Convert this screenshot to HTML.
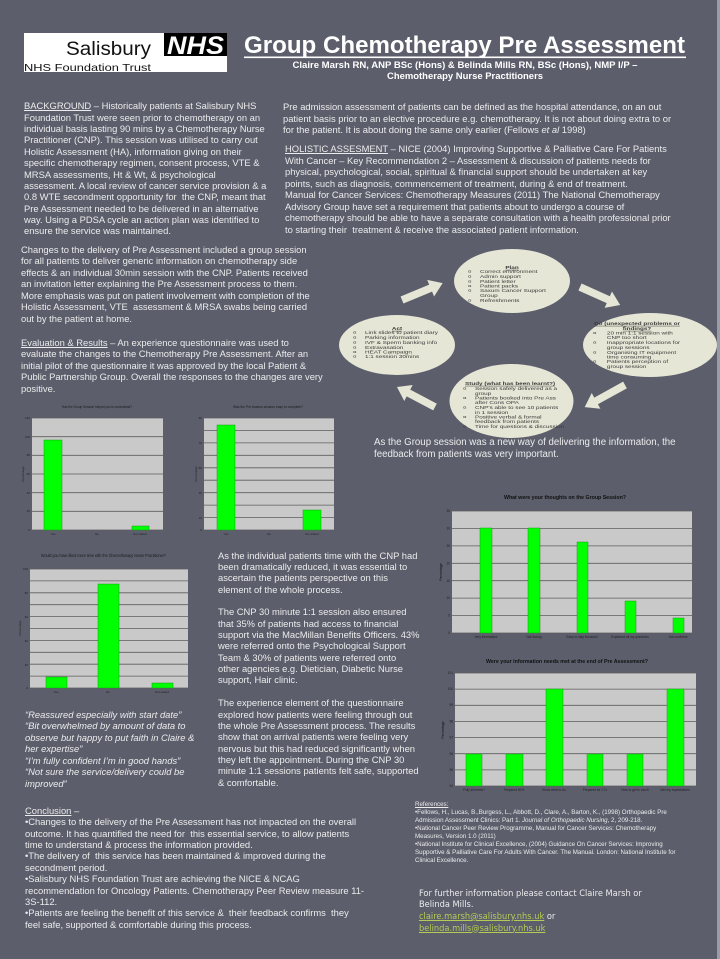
<!DOCTYPE html>
<html><head><meta charset="utf-8">
<style>
html,body{margin:0;padding:0;}
body{width:720px;height:959px;background:#5c5e6c;position:relative;overflow:hidden;font-family:"Liberation Sans",Arial,sans-serif;color:#ececec;}
.t{position:absolute;white-space:nowrap;font-size:9.4px;line-height:11.4px;}
svg{position:absolute;left:0;top:0;}
</style></head><body>
<svg width="720" height="959" viewBox="0 0 720 959" xmlns="http://www.w3.org/2000/svg" font-family="Liberation Sans, Arial, sans-serif">
<rect x="717" y="0" width="3" height="959" fill="#9a9ca8"/>
<!-- logo -->
<rect x="24" y="33" width="203" height="39" fill="#ffffff"/>
<rect x="164" y="33" width="63" height="23" fill="#000"/>
<text x="195.5" y="54" font-size="25" font-weight="bold" font-style="italic" fill="#fff" text-anchor="middle" textLength="57" lengthAdjust="spacingAndGlyphs">NHS</text>
<text x="66" y="55" font-size="19" fill="#111" textLength="85" lengthAdjust="spacingAndGlyphs">Salisbury</text>
<text x="24" y="71" font-size="10.5" fill="#111" textLength="127" lengthAdjust="spacingAndGlyphs">NHS Foundation Trust</text>
<!-- title -->
<text x="244" y="53" font-size="24" font-weight="bold" fill="#fff" textLength="441" lengthAdjust="spacingAndGlyphs">Group Chemotherapy Pre Assessment</text>
<rect x="244" y="56.5" width="442" height="1.6" fill="#fff"/>
<text x="465" y="68" font-size="9.2" font-weight="bold" fill="#fff" text-anchor="middle" textLength="345" lengthAdjust="spacingAndGlyphs">Claire Marsh RN, ANP BSc (Hons) &amp; Belinda Mills RN, BSc (Hons), NMP I/P –</text>
<text x="465" y="79" font-size="9.2" font-weight="bold" fill="#fff" text-anchor="middle" textLength="156" lengthAdjust="spacingAndGlyphs">Chemotherapy Nurse Practitioners</text>

<!-- PDSA diagram -->
<g fill="#e5e6d5">
<ellipse cx="512" cy="281" rx="58" ry="32"/>
<ellipse cx="397" cy="345" rx="58" ry="30"/>
<ellipse cx="650" cy="345" rx="67" ry="32"/>
<ellipse cx="511.5" cy="401" rx="62" ry="37"/>
<g transform="translate(402,300) rotate(-22.5)"><polygon points="0,-3.8 31,-3.8 31,-9 44,0 31,9 31,3.8 0,3.8"/></g>
<g transform="translate(580,287) rotate(24.2)"><polygon points="0,-3.8 31,-3.8 31,-9 44,0 31,9 31,3.8 0,3.8"/></g>
<g transform="translate(625,385) rotate(151.2)"><polygon points="0,-3.8 33,-3.8 33,-9 46,0 33,9 33,3.8 0,3.8"/></g>
<g transform="translate(435,407) rotate(207.8)"><polygon points="0,-3.8 30,-3.8 30,-9 43,0 30,9 30,3.8 0,3.8"/></g>
</g>
<g fill="#3a3a3a" font-size="4.6">
<g transform="translate(468,0) scale(1.38,1)">
<text x="31.9" y="269" text-anchor="middle" font-weight="bold" text-decoration="underline">Plan</text>
<text x="0" y="273">¤</text><text x="8.7" y="273">Correct environment</text>
<text x="0" y="278">¤</text><text x="8.7" y="278">Admin support</text>
<text x="0" y="283">¤</text><text x="8.7" y="283">Patient letter</text>
<text x="0" y="287.5">¤</text><text x="8.7" y="287.5">Patient packs</text>
<text x="0" y="292">¤</text><text x="8.7" y="292">Saxum Cancer Support</text>
<text x="8.7" y="297">Group</text>
<text x="0" y="302">¤</text><text x="8.7" y="302">Refreshments</text>
</g>
<g transform="translate(353,0) scale(1.38,1)">
<text x="31.9" y="330" text-anchor="middle" font-weight="bold" text-decoration="underline">Act</text>
<text x="0" y="334">¤</text><text x="8.7" y="334">Link slides to patient diary</text>
<text x="0" y="339">¤</text><text x="8.7" y="339">Parking information</text>
<text x="0" y="344">¤</text><text x="8.7" y="344">IVF &amp; Sperm banking info</text>
<text x="0" y="349">¤</text><text x="8.7" y="349">Extravasation</text>
<text x="0" y="353.5">¤</text><text x="8.7" y="353.5">HEAT Campaign</text>
<text x="0" y="358">¤</text><text x="8.7" y="358">1:1 session 30mins</text>
</g>
<g transform="translate(593,0) scale(1.38,1)">
<text x="31.9" y="325" text-anchor="middle" font-weight="bold" text-decoration="underline">Do (unexpected problems or</text>
<text x="31.9" y="330" text-anchor="middle" font-weight="bold" text-decoration="underline">findings?</text>
<text x="0" y="334.5">¤</text><text x="10.1" y="334.5">20 min 1:1 session with</text>
<text x="10.1" y="339">CNP too short</text>
<text x="0" y="344">¤</text><text x="10.1" y="344">Inappropriate locations for</text>
<text x="10.1" y="349">group sessions</text>
<text x="0" y="354">¤</text><text x="10.1" y="354">Organising IT equipment</text>
<text x="10.1" y="358.5">time consuming</text>
<text x="0" y="363">¤</text><text x="10.1" y="363">Patients perception of</text>
<text x="10.1" y="368">group session</text>
</g>
<g transform="translate(463,0) scale(1.38,1)">
<text x="34.1" y="385" text-anchor="middle" font-weight="bold" text-decoration="underline">Study (what has been learnt?)</text>
<text x="0" y="390">¤</text><text x="8.7" y="390">Session safely delivered as a</text>
<text x="8.7" y="395">group</text>
<text x="0" y="399.5">¤</text><text x="8.7" y="399.5">Patients booked into Pre Ass</text>
<text x="8.7" y="404">after Cons OPA</text>
<text x="0" y="409">¤</text><text x="8.7" y="409">CNP's able to see 10 patients</text>
<text x="8.7" y="414">in 1 session</text>
<text x="0" y="418.5">¤</text><text x="8.7" y="418.5">Positive verbal &amp; formal</text>
<text x="8.7" y="423">feedback from patients</text>
<text x="0" y="428">¤</text><text x="8.7" y="428">Time for questions &amp; discussion</text>
</g>
</g>

<!-- Chart 1 -->
<g>
<text x="97" y="408" font-size="3.8" fill="#1a1a1a" text-anchor="middle" textLength="70" lengthAdjust="spacingAndGlyphs">Has the Group Session helped you to understand?</text>
<rect x="32" y="418" width="131" height="112" fill="#c9c9c9"/>
<g stroke="#5d5d5d" stroke-width="0.8">
<line x1="32" y1="418" x2="163" y2="418"/><line x1="32" y1="436.7" x2="163" y2="436.7"/><line x1="32" y1="455.3" x2="163" y2="455.3"/><line x1="32" y1="474" x2="163" y2="474"/><line x1="32" y1="492.7" x2="163" y2="492.7"/><line x1="32" y1="511.3" x2="163" y2="511.3"/><line x1="32" y1="530" x2="163" y2="530"/>
</g>
<rect x="44" y="440" width="18" height="90" fill="#00ff00" stroke="#1a9a1a" stroke-width="0.5"/>
<rect x="132" y="526" width="17" height="4" fill="#00ff00" stroke="#1a9a1a" stroke-width="0.5"/>
<g font-size="3" fill="#222" text-anchor="end"><text x="30" y="419">120</text><text x="30" y="438">100</text><text x="30" y="456">80</text><text x="30" y="475">60</text><text x="30" y="494">40</text><text x="30" y="512">20</text><text x="30" y="531">0</text></g>
<g font-size="3" fill="#222" text-anchor="middle"><text x="53" y="535">Yes</text><text x="97" y="535">No</text><text x="140" y="535">Not stated</text></g>
<text transform="translate(24,474) rotate(-90)" font-size="3" fill="#222" text-anchor="middle">Percentage</text>
</g>
<!-- Chart 2 -->
<g>
<text x="268" y="408" font-size="3.8" fill="#1a1a1a" text-anchor="middle" textLength="70" lengthAdjust="spacingAndGlyphs">Was the Pre Assess session easy to complete?</text>
<rect x="204" y="418" width="130" height="112" fill="#c9c9c9"/>
<g stroke="#5d5d5d" stroke-width="0.8">
<line x1="204" y1="418" x2="334" y2="418"/><line x1="204" y1="430.4" x2="334" y2="430.4"/><line x1="204" y1="442.9" x2="334" y2="442.9"/><line x1="204" y1="455.3" x2="334" y2="455.3"/><line x1="204" y1="467.8" x2="334" y2="467.8"/><line x1="204" y1="480.2" x2="334" y2="480.2"/><line x1="204" y1="492.7" x2="334" y2="492.7"/><line x1="204" y1="505.1" x2="334" y2="505.1"/><line x1="204" y1="517.6" x2="334" y2="517.6"/><line x1="204" y1="530" x2="334" y2="530"/>
</g>
<rect x="217" y="425" width="18" height="105" fill="#00ff00" stroke="#1a9a1a" stroke-width="0.5"/>
<rect x="303" y="510" width="18" height="20" fill="#00ff00" stroke="#1a9a1a" stroke-width="0.5"/>
<g font-size="3" fill="#222" text-anchor="end"><text x="202" y="419">90</text><text x="202" y="444">70</text><text x="202" y="469">50</text><text x="202" y="494">30</text><text x="202" y="519">10</text><text x="202" y="531">0</text></g>
<g font-size="3" fill="#222" text-anchor="middle"><text x="226" y="535">Yes</text><text x="269" y="535">No</text><text x="312" y="535">Not stated</text></g>
<text transform="translate(197,474) rotate(-90)" font-size="3" fill="#222" text-anchor="middle">Percentage</text>
</g>
<!-- Chart 3 -->
<g>
<text x="103.5" y="557" font-size="4.2" fill="#1a1a1a" text-anchor="middle" textLength="125" lengthAdjust="spacingAndGlyphs">Would you have liked more time with the Chemotherapy Nurse Practitioner?</text>
<rect x="30" y="569" width="158" height="119" fill="#c9c9c9"/>
<g stroke="#5d5d5d" stroke-width="0.8">
<line x1="30" y1="569" x2="188" y2="569"/><line x1="30" y1="580.9" x2="188" y2="580.9"/><line x1="30" y1="592.8" x2="188" y2="592.8"/><line x1="30" y1="604.7" x2="188" y2="604.7"/><line x1="30" y1="616.6" x2="188" y2="616.6"/><line x1="30" y1="628.5" x2="188" y2="628.5"/><line x1="30" y1="640.4" x2="188" y2="640.4"/><line x1="30" y1="652.3" x2="188" y2="652.3"/><line x1="30" y1="664.2" x2="188" y2="664.2"/><line x1="30" y1="676.1" x2="188" y2="676.1"/><line x1="30" y1="688" x2="188" y2="688"/>
</g>
<rect x="46" y="677" width="21" height="11" fill="#00ff00" stroke="#1a9a1a" stroke-width="0.5"/>
<rect x="98" y="584" width="21" height="104" fill="#00ff00" stroke="#1a9a1a" stroke-width="0.5"/>
<rect x="152" y="683" width="21" height="5" fill="#00ff00" stroke="#1a9a1a" stroke-width="0.5"/>
<g font-size="3" fill="#222" text-anchor="end"><text x="28" y="570">100</text><text x="28" y="594">80</text><text x="28" y="618">60</text><text x="28" y="642">40</text><text x="28" y="666">20</text><text x="28" y="689">0</text></g>
<g font-size="3" fill="#222" text-anchor="middle"><text x="56" y="693">Yes</text><text x="108" y="693">No</text><text x="162" y="693">Not stated</text></g>
<text transform="translate(21,628) rotate(-90)" font-size="3" fill="#222" text-anchor="middle">Percentage</text>
</g>
<!-- Chart 4 -->
<g>
<text x="565" y="499" font-size="5.4" font-weight="bold" fill="#111" text-anchor="middle" textLength="122" lengthAdjust="spacingAndGlyphs">What were your thoughts on the Group Session?</text>
<rect x="452" y="511" width="240" height="122" fill="#c9c9c9"/>
<g stroke="#5d5d5d" stroke-width="0.8">
<line x1="452" y1="511" x2="692" y2="511"/><line x1="452" y1="528.4" x2="692" y2="528.4"/><line x1="452" y1="545.9" x2="692" y2="545.9"/><line x1="452" y1="563.3" x2="692" y2="563.3"/><line x1="452" y1="580.7" x2="692" y2="580.7"/><line x1="452" y1="598.1" x2="692" y2="598.1"/><line x1="452" y1="615.6" x2="692" y2="615.6"/><line x1="452" y1="633" x2="692" y2="633"/>
</g>
<rect x="480" y="528" width="12" height="105" fill="#00ff00" stroke="#1a9a1a" stroke-width="0.5"/>
<rect x="528" y="528" width="12" height="105" fill="#00ff00" stroke="#1a9a1a" stroke-width="0.5"/>
<rect x="577" y="542" width="11" height="91" fill="#00ff00" stroke="#1a9a1a" stroke-width="0.5"/>
<rect x="625" y="601" width="11" height="32" fill="#00ff00" stroke="#1a9a1a" stroke-width="0.5"/>
<rect x="673" y="618" width="11" height="15" fill="#00ff00" stroke="#1a9a1a" stroke-width="0.5"/>
<g font-size="3.2" fill="#222" text-anchor="end"><text x="450" y="512">35</text><text x="450" y="529.5">30</text><text x="450" y="547">25</text><text x="450" y="564.5">20</text><text x="450" y="582">15</text><text x="450" y="599">10</text><text x="450" y="616.5">5</text><text x="450" y="634">0</text></g>
<g font-size="3.2" fill="#222" text-anchor="middle"><text x="486" y="638">Very informative</text><text x="534" y="638">Not Boring</text><text x="582" y="638">Easy to stay focussed</text><text x="630" y="638">Explained all my questions</text><text x="678" y="638">Not confident</text></g>
<text transform="translate(442,572) rotate(-90)" font-size="3.2" font-weight="bold" fill="#222" text-anchor="middle">Percentage</text>
</g>
<!-- Chart 5 -->
<g>
<text x="567" y="663" font-size="5.4" font-weight="bold" fill="#111" text-anchor="middle" textLength="162" lengthAdjust="spacingAndGlyphs">Were your information needs met at the end of Pre Assessment?</text>
<rect x="455" y="673" width="241" height="113" fill="#c9c9c9"/>
<g stroke="#5d5d5d" stroke-width="0.8">
<line x1="455" y1="673" x2="696" y2="673"/><line x1="455" y1="689.1" x2="696" y2="689.1"/><line x1="455" y1="705.3" x2="696" y2="705.3"/><line x1="455" y1="721.4" x2="696" y2="721.4"/><line x1="455" y1="737.6" x2="696" y2="737.6"/><line x1="455" y1="753.7" x2="696" y2="753.7"/><line x1="455" y1="769.9" x2="696" y2="769.9"/><line x1="455" y1="786" x2="696" y2="786"/>
</g>
<rect x="466" y="754" width="16" height="32" fill="#00ff00" stroke="#1a9a1a" stroke-width="0.5"/>
<rect x="506" y="754" width="17" height="32" fill="#00ff00" stroke="#1a9a1a" stroke-width="0.5"/>
<rect x="546" y="689" width="17" height="97" fill="#00ff00" stroke="#1a9a1a" stroke-width="0.5"/>
<rect x="587" y="754" width="16" height="32" fill="#00ff00" stroke="#1a9a1a" stroke-width="0.5"/>
<rect x="627" y="754" width="16" height="32" fill="#00ff00" stroke="#1a9a1a" stroke-width="0.5"/>
<rect x="667" y="689" width="17" height="97" fill="#00ff00" stroke="#1a9a1a" stroke-width="0.5"/>
<g font-size="3.2" fill="#222" text-anchor="end"><text x="453" y="674">101</text><text x="453" y="690">100</text><text x="453" y="706">99</text><text x="453" y="722.5">98</text><text x="453" y="738.5">97</text><text x="453" y="755">96</text><text x="453" y="771">95</text><text x="453" y="787">94</text></g>
<g font-size="3.2" fill="#222" text-anchor="middle"><text x="474" y="791">Fully informed?</text><text x="514" y="791">Prepared 50%</text><text x="554" y="791">Know what to do</text><text x="595" y="791">Prepared for CTx</text><text x="635" y="791">How to get in touch</text><text x="675" y="791">Met my expectations</text></g>
<text transform="translate(444,730) rotate(-90)" font-size="3.2" font-weight="bold" fill="#222" text-anchor="middle">Percentage</text>
</g>
</svg>

<div class="t" style="left:24px;top:100.4px;line-height:11.36px;"><u>BACKGROUND</u> – Historically patients at Salisbury NHS<br>Foundation Trust were seen prior to chemotherapy on an<br>individual basis lasting 90 mins by a Chemotherapy Nurse<br>Practitioner (CNP). This session was utilised to carry out<br>Holistic Assessment (HA), information giving on their<br>specific chemotherapy regimen, consent process, VTE &amp;<br>MRSA assessments, Ht &amp; Wt, &amp; psychological<br>assessment. A local review of cancer service provision &amp; a<br>0.8 WTE secondment opportunity for&nbsp; the CNP, meant that<br>Pre Assessment needed to be delivered in an alternative<br>way. Using a PDSA cycle an action plan was identified to<br>ensure the service was maintained.</div>

<div class="t" style="left:283px;top:101px;line-height:11.5px;">Pre admission assessment of patients can be defined as the hospital attendance, on an out<br>patient basis prior to an elective procedure e.g. chemotherapy. It is not about doing extra to or<br>for the patient. It is about doing the same only earlier (Fellows <i>et al</i> 1998)</div>

<div class="t" style="left:285px;top:143px;line-height:11.53px;"><u>HOLISTIC ASSESMENT</u> – NICE (2004) Improving Supportive &amp; Palliative Care For Patients<br>With Cancer – Key Recommendation 2 – Assessment &amp; discussion of patients needs for<br>physical, psychological, social, spiritual &amp; financial support should be undertaken at key<br>points, such as diagnosis, commencement of treatment, during &amp; end of treatment.<br>Manual for Cancer Services: Chemotherapy Measures (2011) The National Chemotherapy<br>Advisory Group have set a requirement that patients about to undergo a course of<br>chemotherapy should be able to have a separate consultation with a health professional prior<br>to starting their&nbsp; treatment &amp; receive the associated patient information.</div>

<div class="t" style="left:21px;top:243.5px;line-height:11.5px;">Changes to the delivery of Pre Assessment included a group session<br>for all patients to deliver generic information on chemotherapy side<br>effects &amp; an individual 30min session with the CNP. Patients received<br>an invitation letter explaining the Pre Assessment process to them.<br>More emphasis was put on patient involvement with completion of the<br>Holistic Assessment, VTE&nbsp; assessment &amp; MRSA swabs being carried<br>out by the patient at home.</div>

<div class="t" style="left:21px;top:336.7px;line-height:11.5px;"><u>Evaluation &amp; Results</u> – An experience questionnaire was used to<br>evaluate the changes to the Chemotherapy Pre Assessment. After an<br>initial pilot of the questionnaire it was approved by the local Patient &amp;<br>Public Partnership Group. Overall the responses to the changes are very<br>positive.</div>

<div class="t" style="left:374px;top:437px;line-height:12px;font-size:9.7px;">As the Group session was a new way of delivering the information, the<br>feedback from patients was very important.</div>

<div class="t" style="left:218px;top:549.7px;line-height:11.35px;">As the individual patients time with the CNP had<br>been dramatically reduced, it was essential to<br>ascertain the patients perspective on this<br>element of the whole process.<br><br>The CNP 30 minute 1:1 session also ensured<br>that 35% of patients had access to financial<br>support via the MacMillan Benefits Officers. 43%<br>were referred onto the Psychological Support<br>Team &amp; 30% of patients were referred onto<br>other agencies e.g. Dietician, Diabetic Nurse<br>support, Hair clinic.<br><br>The experience element of the questionnaire<br>explored how patients were feeling through out<br>the whole Pre Assessment process. The results<br>show that on arrival patients were feeling very<br>nervous but this had reduced significantly when<br>they left the appointment. During the CNP 30<br>minute 1:1 sessions patients felt safe, supported<br>&amp; comfortable.</div>

<div class="t" style="left:25px;top:708.7px;line-height:11.5px;font-style:italic;">“Reassured especially with start date”<br>“Bit overwhelmed by amount of data to<br>observe but happy to put faith in Claire &amp;<br>her expertise”<br>“I’m fully confident I’m in good hands”<br>“Not sure the service/delivery could be<br>improved”</div>

<div class="t" style="left:25px;top:804.7px;line-height:11.4px;"><u>Conclusion</u> –<br>•Changes to the delivery of the Pre Assessment has not impacted on the overall<br>outcome. It has quantified the need for&nbsp; this essential service, to allow patients<br>time to understand &amp; process the information provided.<br>•The delivery of&nbsp; this service has been maintained &amp; improved during the<br>secondment period.<br>•Salisbury NHS Foundation Trust are achieving the NICE &amp; NCAG<br>recommendation for Oncology Patients. Chemotherapy Peer Review measure 11-<br>3S-112.<br>•Patients are feeling the benefit of this service &amp;&nbsp; their feedback confirms&nbsp; they<br>feel safe, supported &amp; comfortable during this process.</div>

<div class="t" style="left:415px;top:800.5px;line-height:8.14px;font-size:6.2px;"><u>References:</u><br>•Fellows, H., Lucas, B.,Burgess, L., Abbott, D., Clare, A., Barton, K., (1998) Orthopaedic Pre<br>Admission Assessment Clinics: Part 1. <i>Journal of Orthopaedic Nursing</i>, 2, 209-218.<br>•National Cancer Peer Review Programme, Manual for Cancer Services: Chemotherapy<br>Measures, Version 1.0 (2011)<br>•National Institute for Clinical Excellence, (2004) Guidance On Cancer Services: Improving<br>Supportive &amp; Palliative Care For Adults With Cancer. The Manual. London: National Institute for<br>Clinical Excellence.</div>

<div class="t" style="left:419px;top:887.8px;line-height:11.6px;font-size:9.2px;font-family:'DejaVu Sans Condensed','DejaVu Sans',sans-serif;">For further information please contact Claire Marsh or<br>Belinda Mills.<br><span style="color:#b4cc55;text-decoration:underline;">claire.marsh@salisbury.nhs.uk</span> or<br><span style="color:#b4cc55;text-decoration:underline;">belinda.mills@salisbury.nhs.uk</span></div>
</body></html>
